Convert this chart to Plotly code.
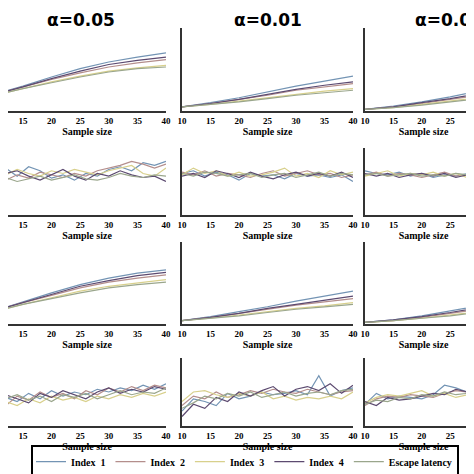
import plotly.graph_objects as go

# Sample sizes
x_smooth = [10, 15, 20, 25, 30, 35, 40]
x_noisy = [10, 12, 14, 16, 18, 20, 22, 24, 26, 28, 30, 32, 34, 36, 38, 40]

series_names = ["Index  1", "Index  2", "Index  3", "Index  4", "Escape latency"]
series_colors = ["#7394b4", "#b48e8c", "#d8d08c", "#5c4a70", "#9aa68c"]

titles = ["α=0.05", "α=0.01", "α=0.001"]

# Row 1 (smooth) - one list per series, per alpha column
row1 = [
    [[0.20, 0.30, 0.41, 0.51, 0.59, 0.65, 0.70],
     [0.20, 0.29, 0.38, 0.46, 0.53, 0.58, 0.62],
     [0.19, 0.27, 0.35, 0.42, 0.48, 0.52, 0.55],
     [0.20, 0.29, 0.39, 0.48, 0.56, 0.61, 0.65],
     [0.19, 0.27, 0.34, 0.41, 0.47, 0.51, 0.53]],
    [[0.05, 0.10, 0.16, 0.23, 0.30, 0.36, 0.42],
     [0.05, 0.09, 0.14, 0.19, 0.25, 0.29, 0.33],
     [0.05, 0.08, 0.12, 0.16, 0.20, 0.24, 0.27],
     [0.05, 0.09, 0.14, 0.20, 0.26, 0.31, 0.35],
     [0.05, 0.08, 0.11, 0.15, 0.19, 0.22, 0.25]],
    [[0.02, 0.06, 0.11, 0.17, 0.24, 0.31, 0.38],
     [0.02, 0.05, 0.09, 0.14, 0.19, 0.25, 0.30],
     [0.02, 0.04, 0.08, 0.12, 0.16, 0.21, 0.25],
     [0.02, 0.05, 0.10, 0.15, 0.21, 0.27, 0.33],
     [0.02, 0.04, 0.07, 0.11, 0.15, 0.19, 0.23]],
]

# Row 2 (noisy)
row2 = [
    [[0.62, 0.70, 0.58, 0.72, 0.66, 0.55, 0.60, 0.52, 0.62, 0.58, 0.68, 0.72, 0.66, 0.78, 0.74, 0.80],
     [0.58, 0.52, 0.60, 0.55, 0.64, 0.60, 0.56, 0.62, 0.58, 0.66, 0.70, 0.74, 0.80, 0.76, 0.70, 0.76],
     [0.66, 0.60, 0.68, 0.62, 0.58, 0.66, 0.62, 0.68, 0.64, 0.60, 0.66, 0.70, 0.74, 0.62, 0.58, 0.70],
     [0.55, 0.62, 0.66, 0.58, 0.52, 0.60, 0.68, 0.58, 0.52, 0.62, 0.58, 0.66, 0.60, 0.56, 0.58, 0.50],
     [0.52, 0.56, 0.50, 0.54, 0.58, 0.52, 0.56, 0.60, 0.54, 0.52, 0.56, 0.62, 0.58, 0.56, 0.60, 0.58]],
    [[0.62, 0.66, 0.58, 0.64, 0.60, 0.52, 0.62, 0.58, 0.60, 0.54, 0.62, 0.58, 0.60, 0.56, 0.60, 0.50],
     [0.64, 0.60, 0.66, 0.58, 0.62, 0.60, 0.56, 0.62, 0.66, 0.58, 0.62, 0.66, 0.60, 0.62, 0.56, 0.60],
     [0.60, 0.70, 0.62, 0.66, 0.58, 0.64, 0.58, 0.60, 0.64, 0.70, 0.58, 0.62, 0.56, 0.66, 0.60, 0.64],
     [0.58, 0.62, 0.56, 0.66, 0.62, 0.56, 0.64, 0.58, 0.54, 0.60, 0.64, 0.58, 0.62, 0.58, 0.64, 0.56],
     [0.62, 0.58, 0.64, 0.62, 0.58, 0.60, 0.62, 0.56, 0.60, 0.62, 0.56, 0.60, 0.64, 0.58, 0.62, 0.60]],
    [[0.66, 0.62, 0.60, 0.64, 0.58, 0.62, 0.56, 0.60, 0.58, 0.62, 0.56, 0.60, 0.58, 0.62, 0.56, 0.60],
     [0.60, 0.64, 0.58, 0.62, 0.60, 0.56, 0.60, 0.64, 0.58, 0.60, 0.62, 0.58, 0.60, 0.56, 0.60, 0.62],
     [0.58, 0.62, 0.66, 0.58, 0.62, 0.60, 0.64, 0.58, 0.62, 0.56, 0.60, 0.62, 0.58, 0.60, 0.64, 0.58],
     [0.62, 0.58, 0.62, 0.56, 0.60, 0.62, 0.58, 0.62, 0.56, 0.60, 0.58, 0.62, 0.60, 0.58, 0.60, 0.58],
     [0.60, 0.62, 0.58, 0.60, 0.62, 0.58, 0.60, 0.58, 0.62, 0.60, 0.58, 0.60, 0.62, 0.60, 0.58, 0.60]],
]

# Row 3 (smooth)
row3 = [
    [[0.16, 0.27, 0.38, 0.48, 0.56, 0.62, 0.66],
     [0.16, 0.26, 0.35, 0.44, 0.51, 0.56, 0.60],
     [0.15, 0.24, 0.32, 0.40, 0.46, 0.50, 0.54],
     [0.16, 0.26, 0.36, 0.46, 0.53, 0.59, 0.63],
     [0.15, 0.24, 0.31, 0.38, 0.44, 0.48, 0.51]],
    [[0.04, 0.09, 0.15, 0.21, 0.28, 0.34, 0.40],
     [0.04, 0.08, 0.13, 0.18, 0.23, 0.27, 0.31],
     [0.04, 0.07, 0.11, 0.15, 0.19, 0.22, 0.26],
     [0.04, 0.08, 0.13, 0.19, 0.24, 0.29, 0.34],
     [0.04, 0.07, 0.10, 0.14, 0.18, 0.21, 0.24]],
    [[0.02, 0.05, 0.10, 0.16, 0.22, 0.29, 0.35],
     [0.02, 0.04, 0.08, 0.13, 0.18, 0.23, 0.28],
     [0.02, 0.04, 0.07, 0.11, 0.15, 0.19, 0.23],
     [0.02, 0.05, 0.09, 0.14, 0.20, 0.25, 0.31],
     [0.02, 0.04, 0.07, 0.10, 0.14, 0.18, 0.21]],
]

# Row 4 (noisy)
row4 = [
    [[0.30, 0.42, 0.36, 0.48, 0.40, 0.52, 0.44, 0.50, 0.46, 0.54, 0.50, 0.56, 0.52, 0.60, 0.54, 0.62],
     [0.36, 0.30, 0.44, 0.38, 0.50, 0.42, 0.48, 0.40, 0.52, 0.46, 0.56, 0.50, 0.58, 0.52, 0.60, 0.56],
     [0.28, 0.36, 0.30, 0.40, 0.34, 0.44, 0.38, 0.42, 0.36, 0.44, 0.40, 0.46, 0.42, 0.48, 0.44, 0.50],
     [0.34, 0.46, 0.40, 0.34, 0.48, 0.42, 0.52, 0.46, 0.40, 0.50, 0.56, 0.48, 0.54, 0.50, 0.58, 0.54],
     [0.32, 0.40, 0.46, 0.38, 0.44, 0.36, 0.46, 0.42, 0.48, 0.40, 0.46, 0.52, 0.46, 0.50, 0.48, 0.56]],
    [[0.22, 0.40, 0.36, 0.30, 0.48, 0.40, 0.44, 0.50, 0.46, 0.48, 0.52, 0.46, 0.74, 0.44, 0.52, 0.56],
     [0.30, 0.44, 0.40, 0.50, 0.42, 0.46, 0.52, 0.48, 0.54, 0.50, 0.48, 0.54, 0.50, 0.46, 0.50, 0.52],
     [0.36, 0.50, 0.52, 0.46, 0.42, 0.48, 0.44, 0.50, 0.40, 0.44, 0.38, 0.42, 0.40, 0.44, 0.40, 0.50],
     [0.14, 0.32, 0.26, 0.42, 0.36, 0.50, 0.44, 0.52, 0.58, 0.44, 0.54, 0.58, 0.52, 0.62, 0.48, 0.60],
     [0.26, 0.34, 0.44, 0.40, 0.48, 0.44, 0.50, 0.42, 0.46, 0.50, 0.44, 0.48, 0.50, 0.46, 0.52, 0.54]],
    [[0.32, 0.48, 0.40, 0.44, 0.42, 0.40, 0.46, 0.60, 0.56, 0.50, 0.54, 0.48, 0.52, 0.48, 0.50, 0.52],
     [0.30, 0.40, 0.44, 0.42, 0.46, 0.44, 0.42, 0.48, 0.52, 0.50, 0.46, 0.50, 0.48, 0.50, 0.46, 0.50],
     [0.34, 0.42, 0.46, 0.44, 0.48, 0.52, 0.44, 0.48, 0.42, 0.46, 0.44, 0.42, 0.46, 0.44, 0.48, 0.46],
     [0.36, 0.30, 0.42, 0.38, 0.40, 0.44, 0.48, 0.46, 0.54, 0.50, 0.52, 0.48, 0.54, 0.50, 0.52, 0.50],
     [0.32, 0.38, 0.36, 0.42, 0.40, 0.46, 0.44, 0.50, 0.46, 0.48, 0.44, 0.50, 0.46, 0.48, 0.50, 0.48]],
]

W = 474
col_dom = [[0.0, 158 / W], [174 / W, 345 / W], [357 / W, 1.0]]
col_rng = [[12.4, 40], [10, 40], [10, 30.6]]
row_dom = [[1 - 103 / W, 1 - 20 / W], [1 - 207 / W, 1 - 140 / W],
           [1 - 316 / W, 1 - 234 / W], [1 - 418 / W, 1 - 350 / W]]
rows = [(row1, x_smooth), (row2, x_noisy), (row3, x_smooth), (row4, x_noisy)]

serif = "Liberation Serif"
fig = go.Figure()
layout = {}
n = 0
for r, (data, xs) in enumerate(rows):
    for c in range(3):
        n += 1
        sfx = "" if n == 1 else str(n)
        for s in range(5):
            fig.add_trace(go.Scatter(
                x=xs, y=data[c][s], mode="lines", name=series_names[s],
                line=dict(color=series_colors[s], width=1.2),
                xaxis="x" + sfx, yaxis="y" + sfx,
                showlegend=(n == 1), legendgroup=series_names[s],
            ))
        layout["xaxis" + sfx] = dict(
            domain=col_dom[c], range=col_rng[c], anchor="y" + sfx,
            tickvals=[10, 15, 20, 25, 30, 35, 40], showgrid=False, zeroline=False,
            showline=True, linecolor="#333", linewidth=1.5, ticks="",
            tickfont=dict(family=serif, size=9, color="black", weight="bold"),
            title=dict(text="Sample size", standoff=2,
                       font=dict(family=serif, size=10, color="black", weight="bold")),
        )
        layout["yaxis" + sfx] = dict(
            domain=row_dom[r], range=[0, 1], anchor="x" + sfx,
            showgrid=False, zeroline=False, showticklabels=False,
            showline=True, linecolor="#333", linewidth=1.5,
        )

fig.update_layout(**layout)

for c, t in enumerate(titles):
    fig.add_annotation(
        text=t, xref="paper", yref="paper", xanchor="center", yanchor="middle",
        x=[73 / W, 260 / W, 447 / W][c], y=1 - 12 / W,
        showarrow=False, font=dict(family="DejaVu Sans", size=17, color="black", weight="bold"),
    )

fig.update_layout(
    width=474, height=474,
    margin=dict(l=0, r=0, t=0, b=0, autoexpand=False),
    plot_bgcolor="white", paper_bgcolor="white",
    legend=dict(
        orientation="h", x=0.5, xanchor="center", y=0.008, yanchor="bottom",
        bordercolor="black", borderwidth=2, itemwidth=30, tracegroupgap=0,
        font=dict(family=serif, size=10, color="black", weight="bold"),
    ),
)

fig.write_html("out.html")
